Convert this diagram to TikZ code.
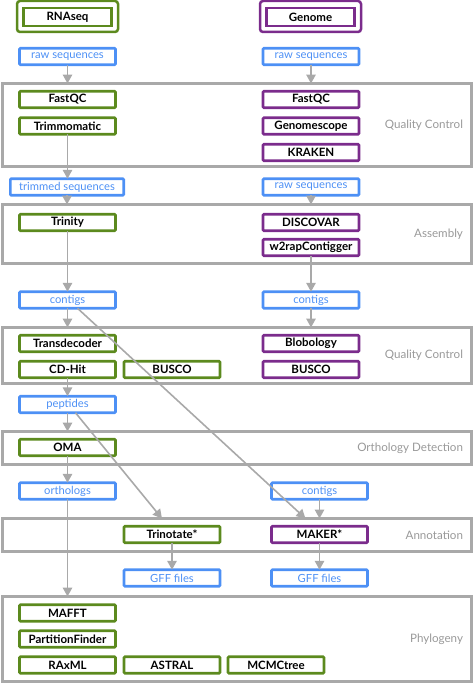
\documentclass[tikz,border=0pt]{standalone}
\usepackage{fontspec}
\setmainfont{Lato}
\usetikzlibrary{arrows.meta}
\definecolor{grn}{HTML}{5C8A1E}
\definecolor{prp}{HTML}{7B2C8C}
\definecolor{blu}{HTML}{4D90F5}
\definecolor{gry}{HTML}{A9A9A9}
\definecolor{lbl}{HTML}{999999}
\tikzset{
  box/.style={draw, line width=2.6pt, rounded corners=1pt, minimum width=96pt, minimum height=16.5pt, inner sep=0pt, outer sep=0pt, font=\bfseries\fontsize{11.5}{13}\selectfont},
  gbox/.style={box, draw=grn},
  pbox/.style={box, draw=prp},
  bbox/.style={box, draw=blu, text=blu, font=\fontsize{11.2}{13}\selectfont},
  section/.style={draw=gry, line width=3pt, minimum width=469pt, inner sep=0pt, outer sep=0pt},
  seclabel/.style={text=lbl, font=\fontsize{11.6}{13}\selectfont, anchor=east},
  arr/.style={draw=gry, line width=1.6pt, -{Triangle[length=9pt,width=9.5pt]}},
}
\begin{document}
\begin{tikzpicture}[x=1pt,y=-1pt]
\useasboundingbox (0,0) rectangle (474,685);
% sections
\node[section, minimum height=83pt] (qc1) at (237,125) {};
\node[section, minimum height=59pt] (asm) at (237,234) {};
\node[section, minimum height=56pt] (qc2) at (237,355.5) {};
\node[section, minimum height=33pt] (orth) at (237,448) {};
\node[section, minimum height=33pt] (annot) at (237,535) {};
\node[section, minimum height=85pt] (phylo) at (237,639) {};
\node[seclabel] (l1) at ([xshift=-5pt]qc1.east) {Quality Control};
\node[seclabel] (l2) at ([xshift=-5pt]asm.east) {Assembly};
\node[seclabel] (l3) at ([xshift=-5pt]qc2.east) {Quality Control};
\node[seclabel] (l4) at ([xshift=-5pt]orth.east) {Orthology Detection};
\node[seclabel] (l5) at ([xshift=-5pt]annot.east) {Annotation};
\node[seclabel] (l6) at ([xshift=-5pt]phylo.east) {Phylogeny};
% sources
\node[draw=grn, line width=2.5pt, rounded corners=3pt, minimum width=101pt, minimum height=31pt, inner sep=0pt, outer sep=0pt] (rnaO) at (67.5,16.5) {};
\node[draw=grn, line width=2.5pt, minimum width=88pt, minimum height=18pt, inner sep=0pt, outer sep=0pt, font=\bfseries\fontsize{11.5}{13}\selectfont] (rna) at (67.5,17) {RNAseq};
\node[draw=prp, line width=2.5pt, rounded corners=3pt, minimum width=101pt, minimum height=31pt, inner sep=0pt, outer sep=0pt] (genO) at (310.5,16.5) {};
\node[draw=prp, line width=2.5pt, minimum width=88pt, minimum height=18pt, inner sep=0pt, outer sep=0pt, font=\bfseries\fontsize{11.5}{13}\selectfont] (gen) at (310.5,17) {Genome};
% left column
\node[bbox] (rawL) at (67.5,56.5) {raw sequences};
\node[gbox] (fastqcL) at (67.5,99.5) {FastQC};
\node[gbox] (trimmo) at (67.5,126) {Trimmomatic};
\node[bbox, minimum width=113.4pt] (trimmed) at (67,187) {trimmed sequences};
\node[gbox] (trinity) at (67.5,222.5) {Trinity};
\node[bbox] (contigsL) at (67.5,300) {contigs};
\node[gbox] (transdec) at (67.5,343.5) {Transdecoder};
\node[gbox] (cdhit) at (67.5,369.5) {CD-Hit};
\node[bbox] (pept) at (67.5,404.5) {peptides};
\node[gbox] (oma) at (67.5,447.5) {OMA};
\node[bbox] (orthologs) at (67.5,491) {orthologs};
\node[gbox] (mafft) at (67.5,613) {MAFFT};
\node[gbox] (partf) at (67.5,639) {PartitionFinder};
\node[gbox] (raxml) at (67.5,665) {RAxML};
% second column
\node[gbox] (buscoL) at (172,369.5) {BUSCO};
\node[gbox] (trinotate) at (172,534.5) {Trinotate*};
\node[bbox] (gffL) at (172,578) {GFF files};
\node[gbox] (astral) at (172,665) {ASTRAL};
\node[gbox] (mcmc) at (276,665) {MCMCtree};
% right column
\node[bbox] (rawR) at (311,56.5) {raw sequences};
\node[pbox] (fastqcR) at (311,99.5) {FastQC};
\node[pbox] (gscope) at (311,126) {Genomescope};
\node[pbox] (kraken) at (311,152.5) {KRAKEN};
\node[bbox] (rawR2) at (311,187) {raw sequences};
\node[pbox] (discovar) at (311,222.5) {DISCOVAR};
\node[pbox] (w2rap) at (311,247.5) {w2rapContigger};
\node[bbox] (contigsR) at (311,300) {contigs};
\node[pbox] (blob) at (311,343.5) {Blobology};
\node[pbox] (buscoR) at (311,369.5) {BUSCO};
\node[bbox] (contigsR2) at (319.5,491) {contigs};
\node[pbox] (maker) at (319.5,534.5) {MAKER*};
\node[bbox] (gffR) at (319.5,578) {GFF files};
% arrows
\draw[arr] (rawL.south) -- (rawL.south |- qc1.north);
\draw[arr] (rawR.south) -- (rawR.south |- qc1.north);
\draw[arr] (trimmo.south) -- (trimmo.south |- trimmed.north);
\draw[arr] (trimmed.south) -- (trimmed.south |- asm.north);
\draw[arr] (rawR2.south) -- (rawR2.south |- asm.north);
\draw[arr] (trinity.south) -- (contigsL.north);
\draw[arr] (w2rap.south) -- (contigsR.north);
\draw[arr] (contigsL.south) -- (contigsL.south |- qc2.north);
\draw[arr] (contigsR.south) -- (contigsR.south |- qc2.north);
\draw[arr] (cdhit.south) -- (pept.north);
\draw[arr] (pept.south) -- (pept.south |- orth.north);
\draw[arr] (oma.south) -- (orthologs.north);
\draw[arr] (orthologs.south) -- (orthologs.south |- phylo.north);
\draw[arr] (contigsR2.south) -- (contigsR2.south |- annot.north);
\draw[arr] (trinotate.south) -- (gffL.north);
\draw[arr] (maker.south) -- (gffR.north);
\draw[arr] ([xshift=10pt]contigsL.south) -- ([xshift=-14pt]maker.north |- annot.north);
\draw[arr] ([xshift=8pt]pept.south) -- ([xshift=-10pt]trinotate.north |- annot.north);
\end{tikzpicture}
\end{document}
